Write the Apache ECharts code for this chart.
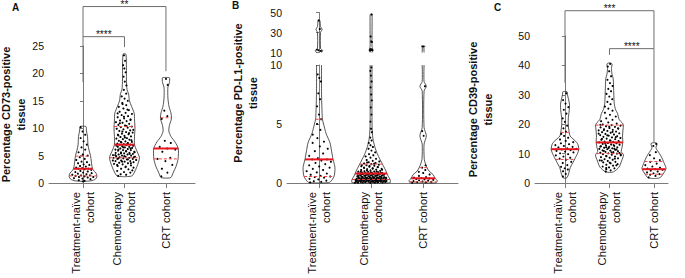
<!DOCTYPE html>
<html>
<head>
<meta charset="utf-8">
<script src="https://cdn.jsdelivr.net/npm/echarts@6/dist/echarts.min.js"></script>
<style>
html, body { margin: 0; padding: 0; background: #fff; }
#main { width: 685px; height: 278px; }
</style>
</head>
<body>
<div id="main"></div>
<script>
var cohorts = [['Treatment-naïve', 'cohort'], ['Chemotherapy', 'cohort'], ['CRT cohort']];

// ---- panel A : CD73 ----
var aNaive = [0.3,0.4,0.5,0.7,0.8,0.9,1.0,1.1,1.1,1.2,1.3,1.4,1.4,1.5,1.6,1.7,1.8,1.9,2.0,2.1,2.2,2.4,2.5,2.6,2.6,2.7,2.8,3.0,3.1,3.3,3.4,3.6,3.8,3.9,4.2,4.4,4.7,5.0,5.2,5.6,6.1,6.5,7.0,7.6,8.2,8.8,9.4,10.2];
var aChemo = [1.3,1.5,1.6,1.9,2.0,2.2,2.5,2.6,2.8,3.0,3.1,3.2,3.4,3.5,3.6,3.7,3.8,3.9,4.0,4.0,4.1,4.2,4.3,4.4,4.4,4.5,4.6,4.6,4.7,4.8,4.8,4.9,5.0,5.0,5.1,5.2,5.2,5.3,5.4,5.5,5.5,5.6,5.7,5.8,5.9,6.0,6.0,6.1,6.2,6.3,6.4,6.5,6.6,6.6,6.7,6.8,6.9,7.0,7.0,7.1,7.2,7.3,7.4,7.5,7.6,7.7,7.9,8.0,8.1,8.2,8.4,8.5,8.6,8.8,8.9,9.0,9.2,9.3,9.5,9.6,9.8,9.9,10.1,10.2,10.3,10.5,10.6,10.8,11.0,11.1,11.3,11.4,11.6,11.8,12.0,12.2,12.4,12.6,12.8,13.0,13.3,13.6,13.9,14.2,14.6,15.0,15.4,15.8,16.3,17.0,17.8,18.5,19.4,20.2,20.9,21.5,22.3,23.3,
	2.3,2.9,3.3,3.6,3.9,4.1,4.3,4.5,4.7,4.9,5.1,5.3,5.4,5.6,5.8,6.1,6.3,6.5,6.8,7.2,7.5,7.8,8.3,8.7,9.1,9.4,9.7,10.4,10.9,11.5,12.1,12.7,13.4,14.4];
var aCrt = [1.2,1.9,2.6,3.3,4.0,4.4,4.6,5.7,6.1,6.3,6.6,7.3,7.7,11.7,12.2,13.2,17.9,19.0];
var aMedian = [2.6, 7.0, 6.3];
var aQ1 = [1.3, 4.6, 4.4];
var aQ3 = [4.9, 10.3, 11.9];
// violin outline: [value, relative density]
var aNaiveDensity = [[0.3,0],[0.4,0.53],[0.7,0.83],[1.2,0.93],[1.8,0.87],[2.4,0.67],[3,0.6],[4,0.55],[5,0.5],[6,0.4],[7,0.33],[8.5,0.3],[9.5,0.23],[10.3,0.2],[10.35,0]];
var aChemoDensity = [[1.15,0],[1.3,0.5],[2,0.67],[3,0.83],[4.6,1],[6,0.8],[7,0.67],[8.5,0.67],[10,0.7],[11.5,0.67],[12.7,0.65],[14,0.47],[15,0.33],[16.3,0.27],[17,0.17],[19,0.13],[21,0.13],[23.5,0.1],[23.6,0]];
var aCrtDensity = [[0.9,0],[1,0.33],[2,0.5],[3,0.67],[4.4,0.81],[6.3,0.82],[7.5,0.6],[8.5,0.33],[9.5,0.19],[10.5,0.23],[11.8,0.37],[12.8,0.33],[14,0.2],[15.5,0.13],[17.5,0.13],[18.3,0.23],[19.2,0.23],[19.25,0]];
var aBrackets = [[0, 2, 32.2, 18.4, 20.4], [0, 1, 26.7, 26.7, 24.8]];
var aStars = ['**', '****'];

// ---- panel B : PD-L1 (broken axis at 10) ----
var bNaive = [0.05,0.1,0.15,0.2,0.3,0.35,0.45,0.5,0.55,0.6,0.7,0.8,0.9,1.0,1.1,1.2,1.3,1.4,1.5,1.6,1.7,1.8,1.9,2.0,2.0,2.1,2.3,2.5,2.7,2.9,3.1,3.4,3.5,3.8,4.1,4.5,5.0,5.4,5.8,6.5,7.1,7.6,8.6,8.9,9.2,11.5,12.2,12.8,33.5,42.0];
var bChemo = [0.02,0.03,0.04,0.05,0.06,0.06,0.07,0.08,0.09,0.1,0.1,0.11,0.12,0.12,0.13,0.14,0.15,0.15,0.16,0.17,0.18,0.18,0.19,0.2,0.2,0.21,0.22,0.22,0.23,0.24,0.25,0.25,0.26,0.27,0.28,0.28,0.29,0.3,0.3,0.31,0.32,0.33,0.33,0.34,0.35,0.35,0.36,0.37,0.38,0.38,0.39,0.4,0.4,0.41,0.42,0.43,0.44,0.44,0.45,0.46,0.47,0.48,0.49,0.5,0.52,0.54,0.55,0.57,0.58,0.6,0.61,0.63,0.65,0.66,0.68,0.7,0.71,0.73,0.75,0.77,0.78,0.8,0.82,0.84,0.86,0.88,0.9,0.92,0.94,0.96,0.98,1.0,1.03,1.07,1.1,1.14,1.18,1.2,1.25,1.3,1.34,1.38,1.42,1.46,1.5,1.55,1.6,1.65,1.7,1.76,1.82,1.88,1.95,2.05,2.15,2.25,2.35,2.45,2.6,2.75,2.9,3.05,3.2,3.4,3.6,3.85,4.3,4.6,5.2,5.8,6.4,7.0,7.5,8.1,8.6,9.1,9.5,9.8,11.8,12.2,12.5,12.8,13.1,13.4,20.5,21.0,26.0,48.0,
	0.01,0.04,0.07,0.09,0.11,0.14,0.16,0.19,0.21,0.24,0.27,0.29,0.32,0.34,0.36,0.39,0.42,0.45,0.48,0.51,0.53,0.56,0.59,0.62,0.64,0.67,0.69,0.72,0.74,0.76,0.79,0.81,0.83,0.87,0.91,0.95,0.99,1.05,1.12,1.22,1.28,1.36,1.44,1.52,1.63,1.74];
var bCrt = [0.02,0.05,0.08,0.1,0.13,0.16,0.2,0.23,0.26,0.3,0.34,0.38,0.42,0.46,0.5,0.6,0.72,0.85,0.95,1.1,1.3,1.5,4.0,4.4,8.2,16.0];
var bMedian = [2.0, 0.8, 0.4];
var bQ1 = [0.55, 0.3, 0.1];
var bQ3 = [5.4, 1.6, 1.3];
var bNaiveDensity = [[0,0],[0.05,0.55],[0.3,0.7],[0.6,0.8],[1.3,0.84],[2,0.74],[2.7,0.66],[3.4,0.58],[4.2,0.37],[5,0.24],[5.4,0.18],[6,0.16],[7,0.14],[8,0.13],[10,0.13],[11,0.18],[12,0.2],[13,0.13],[14,0.08],[30,0.08],[33,0.16],[36,0.08],[42,0.05],[42.5,0]];
var bChemoDensity = [[0,0],[0.02,1],[0.3,1],[0.6,0.89],[1,0.79],[1.5,0.63],[2,0.47],[2.5,0.32],[3,0.21],[3.5,0.13],[4,0.08],[5,0.05],[10,0.05],[12,0.1],[14,0.08],[16,0.05],[48,0.05],[48.3,0]];
var bCrtDensity = [[0,0],[0.02,0.68],[0.2,0.74],[0.4,0.63],[0.7,0.53],[1,0.32],[1.3,0.21],[1.6,0.13],[2,0.06],[3.3,0.05],[4,0.17],[4.7,0.05],[7.8,0.05],[8.2,0.17],[8.6,0.05],[10,0.05],[16,0.05],[16.2,0.11],[16.3,0]];

// ---- panel C : CD39 ----
var cNaive = [2.2,3.1,4.0,4.6,5.0,5.5,6.1,6.8,7.2,7.9,8.3,8.6,9.0,9.4,9.8,10.1,10.4,10.7,10.9,11.2,11.4,11.6,11.8,12.1,12.3,12.6,12.9,13.2,13.5,13.9,14.3,14.8,15.4,16.0,16.7,17.5,18.6,19.5,20.8,22.0,23.6,24.9,25.8,27.0,28.2,30.5];
var cChemo = [3.9,4.3,4.7,5.0,5.3,5.6,5.9,6.2,6.4,6.7,7.0,7.2,7.5,7.7,7.9,8.1,8.4,8.6,8.8,9.0,9.2,9.4,9.6,9.8,10.0,10.1,10.3,10.5,10.6,10.8,11.0,11.1,11.3,11.5,11.6,11.8,12.0,12.1,12.3,12.5,12.6,12.8,13.0,13.1,13.3,13.5,13.6,13.8,14.0,14.1,14.3,14.5,14.7,14.9,15.1,15.3,15.5,15.7,15.9,16.1,16.3,16.5,16.7,16.9,17.1,17.3,17.5,17.7,17.9,18.1,18.3,18.5,18.7,18.9,19.1,19.3,19.5,19.7,19.9,20.2,20.6,21.0,21.5,22.0,22.6,23.2,23.9,24.6,25.3,26.0,26.8,27.6,28.5,29.4,30.3,31.2,32.0,33.0,34.0,35.1,36.3,38.0,39.6,40.5,
	5.1,6.0,6.9,7.6,8.3,9.1,9.7,10.4,10.9,11.4,11.9,12.4,12.9,13.4,13.9,14.4,15.0,15.6,16.2,16.8,17.4,18.0,18.6,19.2,19.8,11.7,12.2,10.2];
var cCrt = [1.9,2.4,2.8,3.0,3.3,3.6,3.9,4.2,4.5,4.7,4.9,5.2,5.6,6.1,6.6,7.2,7.8,8.4,9.5,10.5,12.6,13.3];
var cMedian = [11.5, 13.8, 4.7];
var cQ1 = [8.0, 10.0, 3.0];
var cQ3 = [17.2, 19.7, 7.3];
var cNaiveDensity = [[1.6,0],[1.8,0.14],[3,0.25],[5.3,0.38],[7,0.57],[8.7,0.75],[10,0.89],[11.5,0.99],[13,0.93],[13.8,0.84],[15,0.57],[16,0.36],[17.2,0.3],[19,0.25],[20.5,0.23],[22.3,0.24],[24.5,0.3],[26.8,0.32],[28.5,0.25],[30,0.18],[31,0.16],[31.1,0]];
var cChemoDensity = [[3.6,0],[3.8,0.29],[5.4,0.68],[7.5,0.86],[9.5,1],[10.7,0.84],[12,0.89],[13.8,0.95],[16,0.93],[18,0.96],[19.7,0.99],[20.5,0.9],[21.5,0.7],[23.7,0.57],[25,0.43],[27,0.34],[29.9,0.31],[33,0.29],[35.6,0.26],[37,0.18],[39,0.14],[40.5,0.18],[40.9,0]];
var cCrtDensity = [[1.5,0],[1.8,0.43],[3,0.64],[4.9,0.86],[6,0.79],[7.3,0.68],[8.5,0.57],[9.5,0.46],[10.5,0.32],[11.5,0.18],[12.2,0.14],[13,0.21],[13.6,0.18],[13.7,0]];
var cBrackets = [[0, 2, 58.6, 34.1, 45.7], [1, 2, 45.7, 43.6, 13.7]];
var cStars = ['***', '****'];

var FONT = 'Liberation Sans, Arial, sans-serif';
var INK = '#111111';
var AXIS = '#7a7a7a';

function densAt(prof, v) {
	if (v <= prof[0][0] || v >= prof[prof.length - 1][0]) return 0;
	for (var k = 1; k < prof.length; k++) {
		if (v <= prof[k][0]) {
			var a = prof[k - 1], b = prof[k];
			return a[1] + (b[1] - a[1]) * (v - a[0]) / (b[0] - a[0]);
		}
	}
	return 0;
}

function violinSeries(xi, profiles, hw, lo, hi) {
	return {
		type: 'custom', xAxisIndex: xi, yAxisIndex: xi, silent: true, z: 2,
		data: [[0, lo], [1, lo], [2, lo]],
		renderItem: function (params, api) {
			var g = api.value(0);
			var prof = profiles[g].filter(function (p) { return p[0] >= lo && p[0] <= hi; });
			var right = prof.map(function (p) { return api.coord([g + p[1] * hw, p[0]]); });
			var left = prof.map(function (p) { return api.coord([g - p[1] * hw, p[0]]); });
			var st = { stroke: '#2a2a2a', lineWidth: 0.8, fill: null };
			return {
				type: 'group', children: [
					{ type: 'polyline', shape: { points: right, smooth: 0.25 }, style: st },
					{ type: 'polyline', shape: { points: left, smooth: 0.25 }, style: st }
				]
			};
		}
	};
}

function pointSeries(xi, groups, profiles, hw, lo, hi) {
	var data = [];
	groups.forEach(function (vals, g) {
		vals.forEach(function (v, i) { data.push([g, v, i]); });
	});
	return {
		type: 'custom', xAxisIndex: xi, yAxisIndex: xi, silent: true, z: 3,
		data: data,
		renderItem: function (params, api) {
			var g = api.value(0), v = api.value(1), i = api.value(2);
			if (v < lo || v >= hi) return null;
			var spread = ((i * 0.6180339887) % 1) * 2 - 1;
			var off = densAt(profiles[g], v) * hw * 0.85 * spread;
			var c = api.coord([g + off, v]);
			return { type: 'circle', shape: { cx: c[0], cy: c[1], r: 1.05 }, style: { fill: '#000' } };
		}
	};
}

function quartileSeries(xi, profiles, hw, med, q1, q3) {
	var data = [];
	[0, 1, 2].forEach(function (g) {
		data.push([g, q1[g], 0]);
		data.push([g, q3[g], 0]);
		data.push([g, med[g], 1]);
	});
	return {
		type: 'custom', xAxisIndex: xi, yAxisIndex: xi, silent: true, z: 4,
		data: data,
		renderItem: function (params, api) {
			var g = api.value(0), v = api.value(1), isMed = api.value(2) === 1;
			var w = densAt(profiles[g], v) * hw;
			var p1 = api.coord([g - w, v]), p2 = api.coord([g + w, v]);
			return {
				type: 'line', shape: { x1: p1[0], y1: p1[1], x2: p2[0], y2: p2[1] },
				style: isMed ? { stroke: '#e8141b', lineWidth: 2 } : { stroke: '#ee4040', lineWidth: 1, lineDash: [3, 2] }
			};
		}
	};
}

function bracketSeries(xi, brackets, stars) {
	return {
		type: 'custom', xAxisIndex: xi, yAxisIndex: xi, silent: true, z: 5,
		data: brackets,
		renderItem: function (params, api) {
			var x1 = api.value(0), x2 = api.value(1), lev = api.value(2);
			var pts = [api.coord([x1, api.value(3)]), api.coord([x1, lev]), api.coord([x2, lev]), api.coord([x2, api.value(4)])];
			var mid = api.coord([(x1 + x2) / 2, lev]);
			return {
				type: 'group', children: [
					{ type: 'polyline', shape: { points: pts }, style: { stroke: '#6e6e6e', lineWidth: 1, fill: null } },
					{ type: 'text', x: mid[0], y: mid[1] - 2.5, style: { text: stars[params.dataIndex], fill: INK, font: '10px ' + FONT, align: 'center', verticalAlign: 'middle' } }
				]
			};
		}
	};
}

function xAxisCfg(gi, min, max, show) {
	return {
		gridIndex: gi, type: 'value', min: min, max: max, show: show,
		splitLine: { show: false },
		axisLine: { show: true, lineStyle: { color: AXIS, width: 1 } },
		axisTick: { show: true, customValues: [0, 1, 2], length: 5, lineStyle: { color: AXIS } },
		axisLabel: {
			customValues: [0, 1, 2], rotate: 90, margin: 9,
			color: INK, fontFamily: FONT,
			formatter: function (v) {
				return cohorts[Math.round(v)].map(function (s) { return '{c|' + s + '}'; }).join('\n');
			},
			rich: { c: { width: 82, align: 'right', fontSize: 11.2, lineHeight: 14, color: INK, fontFamily: FONT } }
		}
	};
}

function yAxisCfg(gi, min, max, interval, name, gap) {
	return {
		gridIndex: gi, type: 'value', min: min, max: max, interval: interval,
		splitLine: { show: false },
		axisLine: { show: true, lineStyle: { color: AXIS, width: 1 } },
		axisTick: { show: true, length: 3, lineStyle: { color: AXIS } },
		axisLabel: { margin: 5, fontSize: 10.5, color: INK, fontFamily: FONT },
		name: name || '', nameLocation: 'middle', nameRotate: 90, nameGap: gap || 0,
		nameTextStyle: { fontWeight: 'bold', fontSize: 11, lineHeight: 15, color: INK, fontFamily: FONT }
	};
}

var chart = echarts.init(document.getElementById('main'), null, { renderer: 'svg' });

var HW_A = 0.361, HW_B = 0.365, HW_C = 0.315;
var aProf = [aNaiveDensity, aChemoDensity, aCrtDensity];
var bProf = [bNaiveDensity, bChemoDensity, bCrtDensity];
var cProf = [cNaiveDensity, cChemoDensity, cCrtDensity];

var option = {
	animation: false,
	backgroundColor: '#fff',
	textStyle: { fontFamily: FONT, color: INK },
	grid: [
		{ left: 49, top: 46, width: 146, height: 137, outerBoundsMode: 'none' },
		{ left: 287, top: 12.5, width: 171, height: 40, outerBoundsMode: 'none' },
		{ left: 287, top: 65, width: 171, height: 118, outerBoundsMode: 'none' },
		{ left: 535, top: 36, width: 133, height: 147, outerBoundsMode: 'none' }
	],
	xAxis: [
		xAxisCfg(0, -0.82, 2.7, true),
		xAxisCfg(1, -0.615, 2.67, false),
		xAxisCfg(2, -0.615, 2.67, true),
		xAxisCfg(3, -0.674, 2.315, true)
	],
	yAxis: [
		yAxisCfg(0, 0, 25, 5, 'Percentage CD73-positive\ntissue', 20),
		yAxisCfg(1, 10, 50, 20),
		yAxisCfg(2, 0, 10, 5),
		yAxisCfg(3, 0, 50, 10, 'Percentage CD39-positive\ntissue', 40)
	],
	graphic: [
		{ type: 'text', x: 12, y: 2, style: { text: 'A', font: 'bold 10px ' + FONT, fill: INK } },
		{ type: 'text', x: 232, y: 0, style: { text: 'B', font: 'bold 10px ' + FONT, fill: INK } },
		{ type: 'text', x: 494, y: 2, style: { text: 'C', font: 'bold 10px ' + FONT, fill: INK } },
		{ type: 'text', x: 245, y: 93, rotation: Math.PI / 2,
		  style: { text: 'Percentage PD-L1-positive\ntissue', font: 'bold 11px ' + FONT, lineHeight: 15, fill: INK, align: 'center', verticalAlign: 'middle' } }
	],
	series: [
		violinSeries(0, aProf, HW_A, 0, 25),
		pointSeries(0, [aNaive, aChemo, aCrt], aProf, HW_A, 0, 100),
		quartileSeries(0, aProf, HW_A, aMedian, aQ1, aQ3),
		bracketSeries(0, aBrackets, aStars),

		violinSeries(1, bProf, HW_B, 10, 50),
		pointSeries(1, [bNaive, bChemo, bCrt], bProf, HW_B, 10, 100),
		violinSeries(2, bProf, HW_B, 0, 10),
		pointSeries(2, [bNaive, bChemo, bCrt], bProf, HW_B, 0, 10),
		quartileSeries(2, bProf, HW_B, bMedian, bQ1, bQ3),

		violinSeries(3, cProf, HW_C, 0, 50),
		pointSeries(3, [cNaive, cChemo, cCrt], cProf, HW_C, 0, 100),
		quartileSeries(3, cProf, HW_C, cMedian, cQ1, cQ3),
		bracketSeries(3, cBrackets, cStars)
	]
};
chart.setOption(option);
</script>
</body>
</html>
